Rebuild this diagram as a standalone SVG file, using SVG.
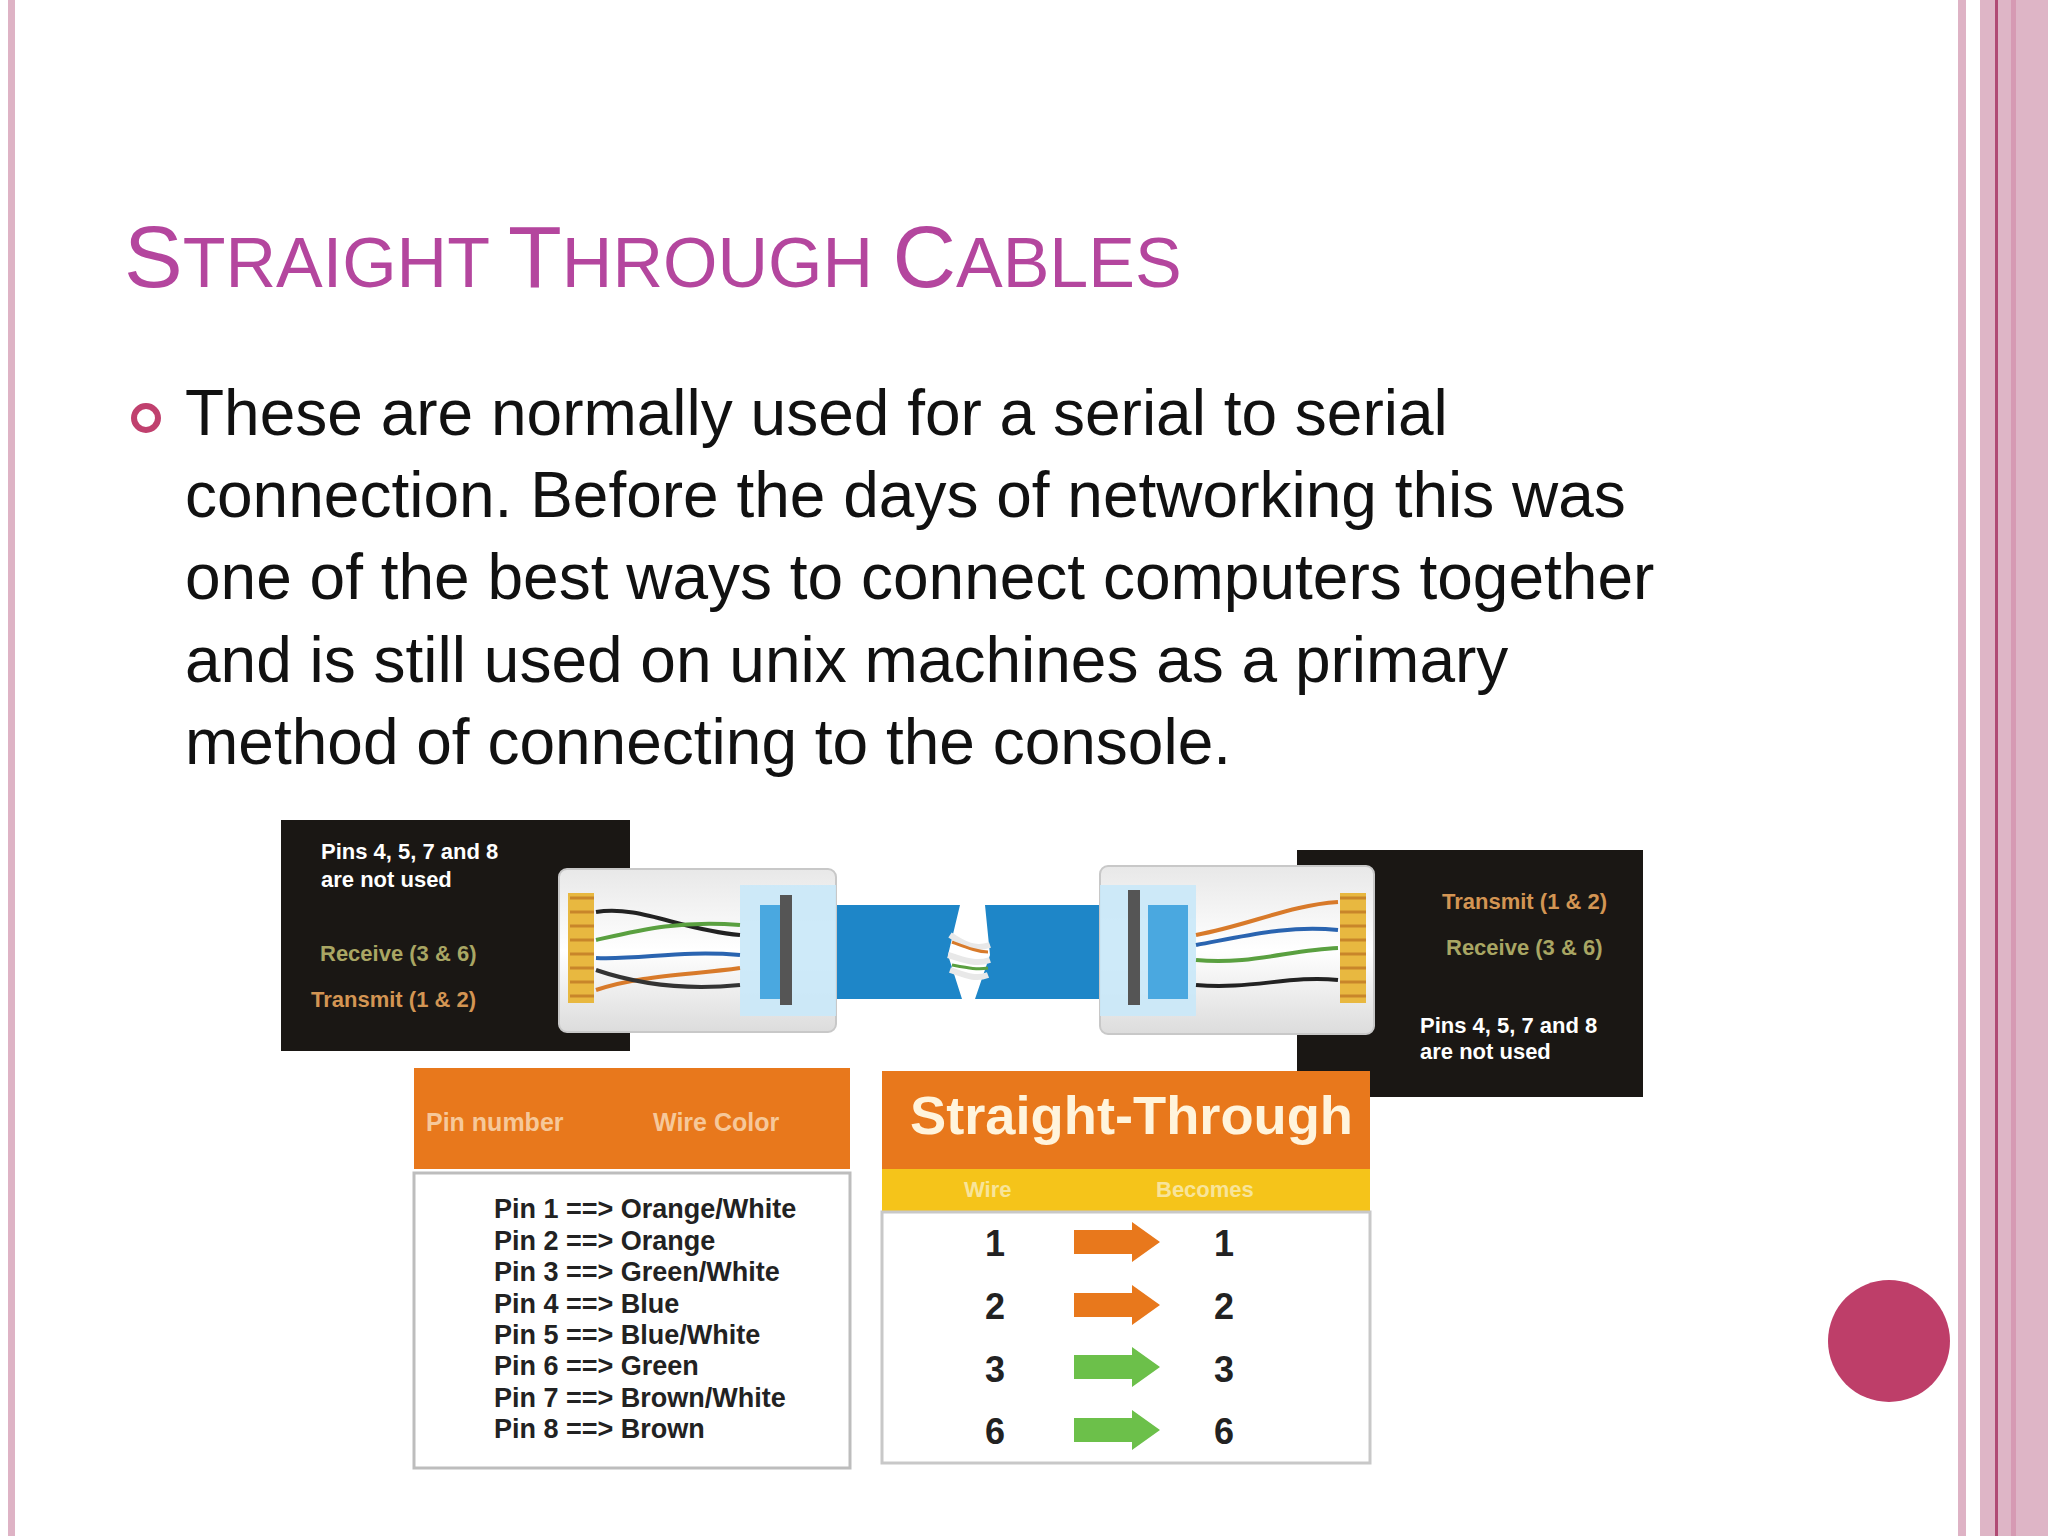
<svg xmlns="http://www.w3.org/2000/svg" width="2048" height="1536" viewBox="0 0 2048 1536">
<style>
.t{font-family:"Liberation Sans",Arial,sans-serif}
.pin{font-family:"Liberation Sans",Arial,sans-serif;font-weight:bold;font-size:27px;fill:#222}
.num{font-family:"Liberation Sans",Arial,sans-serif;font-weight:bold;font-size:36px;fill:#222;text-anchor:middle}
.lbl{font-family:"Liberation Sans",Arial,sans-serif;font-weight:bold;font-size:22px}
.wire{fill:none;stroke-width:4}
</style>
<defs>
<path id="arr" d="M0,-12 H58 V-20 L86,0 L58,20 V12 H0 Z"/>
<linearGradient id="plug" x1="0" y1="0" x2="0" y2="1"><stop offset="0" stop-color="#e8e8e8"/><stop offset="0.5" stop-color="#ffffff"/><stop offset="1" stop-color="#dcdcdc"/></linearGradient>
</defs>
<rect width="2048" height="1536" fill="#ffffff"/>
<g id="frame">
<rect x="8" y="0" width="7" height="1536" fill="#deb3c5"/>
<rect x="1958" y="0" width="8" height="1536" fill="#deb3c5"/>
<rect x="1980" y="0" width="68" height="1536" fill="#deb5c6"/>
<rect x="1995" y="0" width="3" height="1536" fill="#b04a74"/>
<rect x="2011" y="0" width="5" height="1536" fill="#d69ab3"/>
</g>
<g id="title"><text class="t" x="124" y="287" font-size="88" fill="#b4469e">S<tspan font-size="70">TRAIGHT </tspan>T<tspan font-size="70">HROUGH </tspan>C<tspan font-size="70">ABLES</tspan></text></g>
<g id="body">
<circle cx="146" cy="418" r="12" fill="none" stroke="#c0406e" stroke-width="6"/>
<text class="t" font-size="64" fill="#111">
<tspan x="185" y="435">These are normally used for a serial to serial</tspan>
<tspan x="185" y="517">connection. Before the days of networking this was</tspan>
<tspan x="185" y="599">one of the best ways to connect computers together</tspan>
<tspan x="185" y="682">and is still used on unix machines as a primary</tspan>
<tspan x="185" y="764">method of connecting to the console.</tspan>
</text>
</g>
<g id="left-label-box">
<rect x="281" y="820" width="349" height="231" fill="#1a1714"/>
<text class="lbl" fill="#fff" x="321" y="859">Pins 4, 5, 7 and 8</text>
<text class="lbl" fill="#fff" x="321" y="887">are not used</text>
<text class="lbl" fill="#a9a663" x="320" y="961">Receive (3 &amp; 6)</text>
<text class="lbl" fill="#d39553" x="311" y="1007">Transmit (1 &amp; 2)</text>
</g>
<g id="right-label-box">
<rect x="1297" y="850" width="346" height="247" fill="#1a1714"/>
<text class="lbl" fill="#d39553" x="1442" y="909">Transmit (1 &amp; 2)</text>
<text class="lbl" fill="#a9a663" x="1446" y="955">Receive (3 &amp; 6)</text>
<text class="lbl" fill="#fff" x="1420" y="1033">Pins 4, 5, 7 and 8</text>
<text class="lbl" fill="#fff" x="1420" y="1059">are not used</text>
</g>
<g id="cable">
<polygon points="800,905 960,905 948,955 962,999 800,999" fill="#1e86c8"/>
<polygon points="985,905 1120,905 1120,999 975,999 990,955" fill="#1e86c8"/>
<path d="M950,935 C965,945 975,950 990,945 M948,955 C965,960 975,965 990,960 M950,970 C965,975 975,980 988,975" stroke="#e8e8e8" stroke-width="6" fill="none"/>
<path d="M952,942 C968,948 978,952 988,952" stroke="#d87a2a" stroke-width="3" fill="none"/>
<path d="M952,965 C968,968 978,970 988,968" stroke="#5aa040" stroke-width="3" fill="none"/>
</g>
<g id="left-plug">
<rect x="559" y="869" width="277" height="163" rx="8" fill="url(#plug)" stroke="#c8c8c8" stroke-width="2"/>
<rect x="740" y="885" width="96" height="131" fill="#c9e8f8" opacity="0.9"/>
<rect x="760" y="905" width="30" height="94" fill="#4aa8e0"/>
<rect x="780" y="895" width="12" height="110" fill="#555"/>
<rect x="568" y="893" width="26" height="110" fill="#e8b840"/>
<g stroke="#c8862a" stroke-width="3"><line x1="570" y1="898" x2="594" y2="898"/><line x1="570" y1="912" x2="594" y2="912"/><line x1="570" y1="926" x2="594" y2="926"/><line x1="570" y1="940" x2="594" y2="940"/><line x1="570" y1="954" x2="594" y2="954"/><line x1="570" y1="968" x2="594" y2="968"/><line x1="570" y1="982" x2="594" y2="982"/><line x1="570" y1="996" x2="594" y2="996"/></g>
<path class="wire" stroke="#222" d="M596,912 C640,905 680,930 740,935"/>
<path class="wire" stroke="#5aa040" d="M596,940 C640,930 680,920 740,925"/>
<path class="wire" stroke="#2a64b0" d="M596,958 C640,960 680,950 740,955"/>
<path class="wire" stroke="#d87a2a" d="M596,990 C640,975 690,975 740,968"/>
<path class="wire" stroke="#333" d="M596,970 C640,985 690,990 740,985"/>
</g>
<g id="right-plug">
<rect x="1100" y="866" width="274" height="168" rx="8" fill="url(#plug)" stroke="#c8c8c8" stroke-width="2"/>
<rect x="1100" y="885" width="96" height="131" fill="#c9e8f8" opacity="0.9"/>
<rect x="1148" y="905" width="40" height="94" fill="#4aa8e0"/>
<rect x="1128" y="890" width="12" height="115" fill="#555"/>
<rect x="1340" y="893" width="26" height="110" fill="#e8b840"/>
<g stroke="#c8862a" stroke-width="3"><line x1="1340" y1="898" x2="1366" y2="898"/><line x1="1340" y1="912" x2="1366" y2="912"/><line x1="1340" y1="926" x2="1366" y2="926"/><line x1="1340" y1="940" x2="1366" y2="940"/><line x1="1340" y1="954" x2="1366" y2="954"/><line x1="1340" y1="968" x2="1366" y2="968"/><line x1="1340" y1="982" x2="1366" y2="982"/><line x1="1340" y1="996" x2="1366" y2="996"/></g>
<path class="wire" stroke="#d87a2a" d="M1196,935 C1250,925 1290,905 1338,902"/>
<path class="wire" stroke="#2a64b0" d="M1196,945 C1250,935 1290,925 1338,930"/>
<path class="wire" stroke="#5aa040" d="M1196,960 C1250,965 1290,950 1338,948"/>
<path class="wire" stroke="#222" d="M1196,985 C1250,990 1290,975 1338,980"/>
</g>
<g id="pin-table">
<rect x="414" y="1068" width="436" height="101" fill="#e8781c"/>
<text class="t" font-size="25" font-weight="bold" fill="#f6c89a" x="426" y="1131">Pin number</text>
<text class="t" font-size="25" font-weight="bold" fill="#f6c89a" x="653" y="1131">Wire Color</text>
<rect x="414" y="1173" width="436" height="295" fill="#fff" stroke="#bdbdbd" stroke-width="3"/>
<text class="pin" x="494" y="1218">Pin 1 ==&gt; Orange/White</text>
<text class="pin" x="494" y="1250">Pin 2 ==&gt; Orange</text>
<text class="pin" x="494" y="1281">Pin 3 ==&gt; Green/White</text>
<text class="pin" x="494" y="1313">Pin 4 ==&gt; Blue</text>
<text class="pin" x="494" y="1344">Pin 5 ==&gt; Blue/White</text>
<text class="pin" x="494" y="1375">Pin 6 ==&gt; Green</text>
<text class="pin" x="494" y="1407">Pin 7 ==&gt; Brown/White</text>
<text class="pin" x="494" y="1438">Pin 8 ==&gt; Brown</text>
</g>
<g id="straight-through-table">
<rect x="882" y="1071" width="488" height="98" fill="#e8781c"/>
<text class="t" font-size="54" font-weight="bold" fill="#fff4dc" x="910" y="1134" textLength="443" lengthAdjust="spacingAndGlyphs">Straight-Through</text>
<rect x="882" y="1169" width="488" height="43" fill="#f5c41a"/>
<text class="t" font-size="22" font-weight="bold" fill="#f8e49a" x="964" y="1197">Wire</text>
<text class="t" font-size="22" font-weight="bold" fill="#f8e49a" x="1156" y="1197">Becomes</text>
<rect x="882" y="1212" width="488" height="251" fill="#fff" stroke="#c8c8c8" stroke-width="3"/>
<text class="num" x="995" y="1256">1</text><text class="num" x="1224" y="1256">1</text>
<text class="num" x="995" y="1319">2</text><text class="num" x="1224" y="1319">2</text>
<text class="num" x="995" y="1382">3</text><text class="num" x="1224" y="1382">3</text>
<text class="num" x="995" y="1444">6</text><text class="num" x="1224" y="1444">6</text>
<use href="#arr" x="1074" y="1242" fill="#e8781c"/>
<use href="#arr" x="1074" y="1305" fill="#e8781c"/>
<use href="#arr" x="1074" y="1367" fill="#6cc04a"/>
<use href="#arr" x="1074" y="1430" fill="#6cc04a"/>
</g>
<g id="dot"><circle cx="1889" cy="1341" r="61" fill="#be3e69"/></g>
</svg>
